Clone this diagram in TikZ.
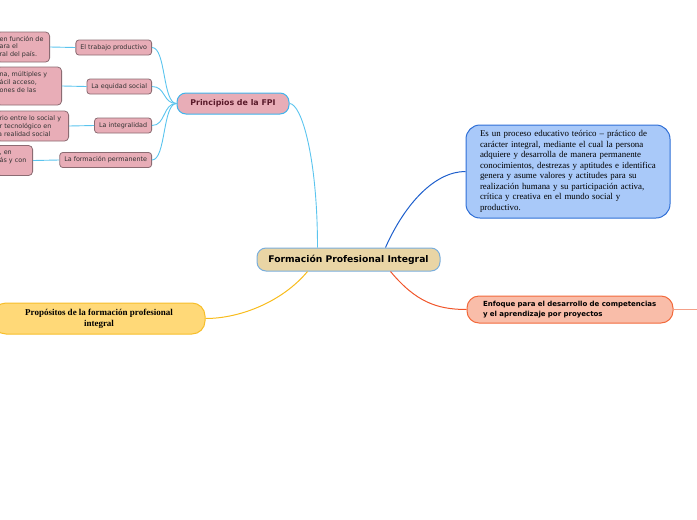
\documentclass[tikz,border=0pt]{standalone}
\usepackage{fontspec}
\setmainfont{DejaVu Sans}
\newfontfamily\timesfont{Liberation Serif}
\usetikzlibrary{positioning,calc}

\definecolor{tanfill}{HTML}{E9D5A5}
\definecolor{centerline}{HTML}{7AAEDC}
\definecolor{pinkfill}{HTML}{E8ADB7}
\definecolor{prinline}{HTML}{40B4EC}
\definecolor{childline}{HTML}{8B6B72}
\definecolor{skyline}{HTML}{5BC4EE}
\definecolor{bluefill}{HTML}{A9C9F9}
\definecolor{blueline}{HTML}{2F6FD6}
\definecolor{bluewire}{HTML}{1E5FCC}
\definecolor{salmonfill}{HTML}{F9BDA9}
\definecolor{salmonline}{HTML}{F26A3C}
\definecolor{salmonwire}{HTML}{F0552A}
\definecolor{salmonstub}{HTML}{F4A088}
\definecolor{goldfill}{HTML}{FFD978}
\definecolor{goldline}{HTML}{F7BE2A}
\definecolor{goldwire}{HTML}{F8BC1C}
\definecolor{maroon}{HTML}{5A1A2A}

\begin{document}
\begin{tikzpicture}
  [
  x=1pt, y=-1pt,
  line width=1pt,
  rootnode/.style={rectangle, rounded corners=9pt, draw=centerline, fill=tanfill,
    minimum width=183pt, minimum height=23pt, inner sep=0pt,
    font=\fontsize{9.2}{10}\selectfont\bfseries},
  prinnode/.style={rectangle, rounded corners=9pt, draw=prinline, fill=pinkfill,
    minimum width=112pt, minimum height=21pt, inner sep=0pt, text=maroon,
    font=\fontsize{7.9}{9}\selectfont\bfseries},
  childnode/.style={rectangle, rounded corners=3pt, draw=childline, fill=pinkfill,
    line width=0.8pt, minimum height=15pt, inner xsep=4.5pt, inner ysep=0pt,
    text=black!80, font=\fontsize{6.4}{7.8}\selectfont, anchor=east},
  leafnode/.style={childnode, rounded corners=4pt, align=left, inner xsep=3pt,
    inner ysep=0pt},
  wire/.style={skyline, line width=0.9pt},
  ]

  \clip (0,0) rectangle (697,520);

  % centre and main branches
  \node[rootnode] (fpi) at (348.5,259.5) {Formación Profesional Integral};
  \node[prinnode] (prin) at (233,103.5) {Principios de la FPI};

  \node[rectangle, rounded corners=14pt, draw=blueline, fill=bluefill,
    minimum width=204pt, minimum height=93pt, inner xsep=14pt, text width=176pt,
    align=left, font=\timesfont\fontsize{8.9}{10.5}\selectfont] (def) at (568,171.5)
    {Es un proceso educativo teórico – práctico de\\
     carácter integral, mediante el cual la persona\\
     adquiere y desarrolla de manera permanente\\
     conocimientos, destrezas y aptitudes e identifica\\
     genera y asume valores y actitudes para su\\
     realización humana y su participación activa,\\
     crítica y creativa en el mundo social y\\
     productivo.};

  \node[rectangle, rounded corners=12pt, draw=salmonline, fill=salmonfill,
    minimum width=206pt, minimum height=27pt, inner sep=0pt, text width=174pt,
    align=left, font=\fontsize{7}{10}\selectfont\bfseries] (enf) at (570,309.5)
    {Enfoque para el desarrollo de competencias\\y el aprendizaje por proyectos};

  \node[rectangle, rounded corners=13pt, draw=goldline, fill=goldfill,
    minimum width=212pt, minimum height=31pt, inner sep=0pt, align=center,
    font=\timesfont\fontsize{9}{11}\selectfont\bfseries] (prop) at (99,318.5)
    {Propósitos de la formación profesional\\integral};

  \coordinate (enfout) at (700,309.5);

  % principles
  \foreach \i/\y/\t in {1/47.5/El trabajo productivo, 2/86.5/La equidad social,
    3/125.5/La integralidad, 4/160/La formación permanente} {
    \node[childnode] (p\i) at (152,\y) {\t};
  }

  \node[leafnode, text width=47pt, minimum height=30pt] (d1) at (50,47)
    {en función de\\ara el\\ral del país.};
  \node[leafnode, text width=59pt, minimum height=38pt] (d2) at (62,86)
    {na, múltiples y\\ácil acceso,\\ones de las\\\mbox{}};
  \node[leafnode, text width=66pt, minimum height=30pt] (d3) at (69,126)
    {rio entre lo social y\\r tecnológico en\\\hspace*{-1.5pt}a realidad social};
  \node[leafnode, text width=30pt, minimum height=30pt] (d4) at (33,160.5)
    {, en\\ás y con\\\mbox{}};

  \foreach \i in {1,2,3,4} {
    \draw[wire] (prin.west) .. controls +(-14,0) and +(14,0) .. (p\i.east);
    \draw[wire] (p\i.west) -- (d\i.east);
  }

  % branches from the centre
  \draw[wire] (prin.east) .. controls +(12,0) and +(0,-90) .. ([xshift=-31pt]fpi.north);
  \draw[bluewire] ([xshift=37pt]fpi.north) .. controls +(20,-45) and +(-30,0) .. (def.west);
  \draw[salmonwire] ([xshift=42pt]fpi.south) .. controls +(25,30) and +(-30,0) .. (enf.west);
  \draw[goldwire] ([xshift=-41pt]fpi.south) .. controls +(-25,30) and +(35,0) .. (prop.east);
  \draw[salmonstub, line width=0.8pt] (enf.east) -- (enfout);

\end{tikzpicture}
\end{document}
